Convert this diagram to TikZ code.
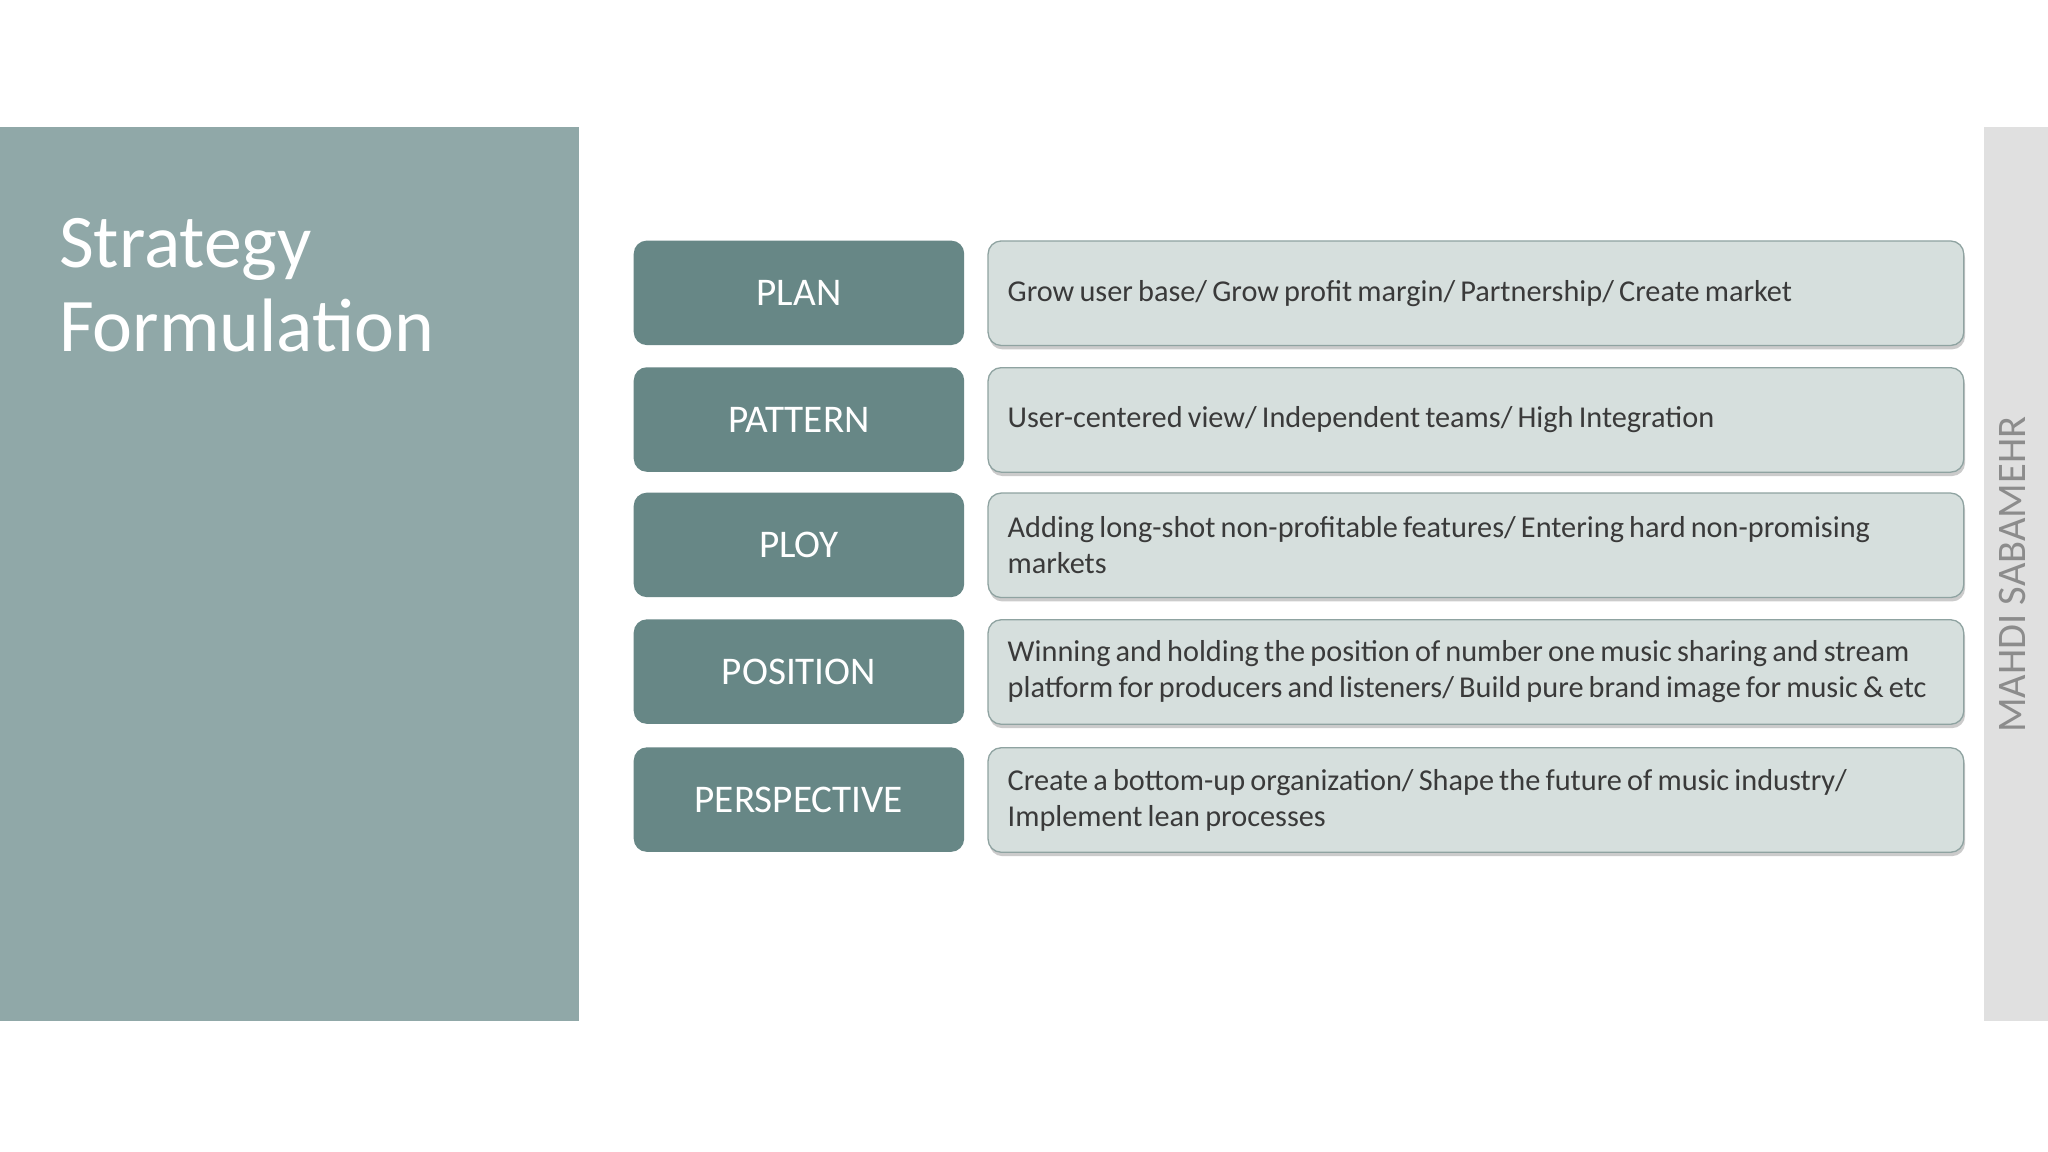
\documentclass[tikz,border=0pt]{standalone}
\usepackage{fontspec}
\setmainfont{Carlito}
\usetikzlibrary{shadows}
\definecolor{panel}{HTML}{90A8A8}
\definecolor{lab}{HTML}{678786}
\definecolor{cont}{HTML}{D6DFDD}
\definecolor{contb}{HTML}{8FA3A1}
\definecolor{strip}{HTML}{E0E0E0}
\definecolor{txt}{HTML}{3A3A3A}
\newcommand\tightsp{\spaceskip=0.17em plus 0.05em\relax}
\tikzset{
 labbox/.style={fill=lab,rounded corners=10pt,minimum width=253pt,minimum height=80pt,text=white,font=\fontsize{30}{34}\selectfont,anchor=north west,inner sep=0pt},
 contbox/.style={fill=cont,draw=contb,line width=1pt,rounded corners=10pt,minimum width=747pt,minimum height=80pt,text=txt,font=\fontsize{23.2}{27.5}\selectfont,anchor=north west,text width=717pt,inner xsep=15pt,align=left,drop shadow={shadow xshift=1pt,shadow yshift=-3pt,fill=black!40}}
}
\begin{document}
\begin{tikzpicture}[x=1pt,y=-1pt]
\useasboundingbox (0,0) rectangle (1568,882);
\fill[white] (0,0) rectangle (1568,882);
\fill[panel] (0,97) rectangle (443,782);
\fill[strip] (1519,97) rectangle (1568,782);
\node[rotate=90,text=black!45,font=\fontsize{31}{34}\selectfont] (auth) at (1541,440) {MAHDI SABAMEHR};
\node[anchor=north west,text=white,align=left,font=\fontsize{58}{64}\selectfont,inner sep=0pt] (title) at (45,167) {Strategy\\Formulation};
\foreach \n/\y/\l/\c in {a/184/PLAN/{Grow user base/ Grow profit margin/ Partnership/ Create market},
 b/281/PATTERN/{User-centered view/ Independent teams/ High Integration},
 c/377/PLOY/{Adding long-shot non-profitable features/ Entering hard non-promising\\markets},
 d/474/POSITION/{Winning and holding the position of number one music sharing and stream\\platform for producers and listeners/ Build pure brand image for music \& etc},
 e/572/PERSPECTIVE/{Create a bottom-up organization/ Shape the future of music industry/\\Implement lean processes}}{
 \node[labbox] (l\n) at (485,\y) {\l};
 \node[contbox] (c\n) at (756,\y) {\tightsp\c};
}
\end{tikzpicture}
\end{document}
